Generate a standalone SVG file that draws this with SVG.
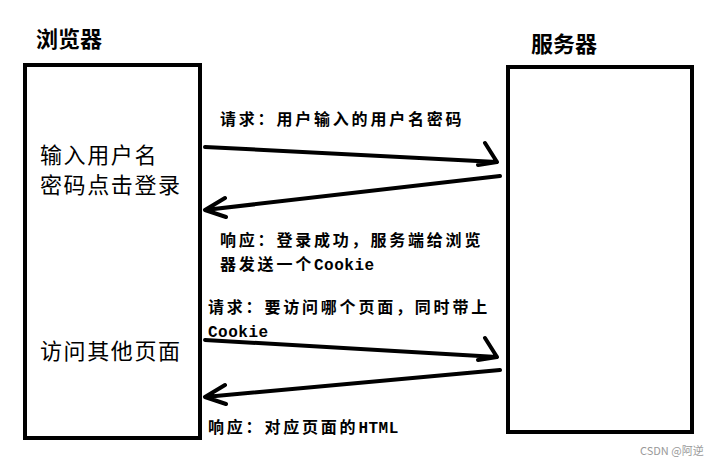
<svg xmlns="http://www.w3.org/2000/svg" width="720" height="465" viewBox="0 0 720 465">
<style>
.box{fill:#fff;stroke:#000;stroke-width:4}
.t{font-family:"Noto Sans CJK SC",sans-serif;fill:#000}
.h{font-size:22px;font-weight:bold}
.n{font-size:22px;letter-spacing:1.6px}
.l{font-size:16px;font-weight:bold;letter-spacing:2.8px;font-family:"Liberation Mono","Noto Sans CJK SC",monospace}
.m{letter-spacing:0.5px}
.c{stroke:#000;stroke-width:4;fill:none;stroke-linecap:round;stroke-linejoin:round}
</style>
<rect width="720" height="465" fill="#fff"/>
<g id="browser">
<rect class="box" x="25" y="65" width="175" height="373"/>
<text class="t h" x="36" y="47">浏览器</text>
<text class="t n" x="40" y="163">输入用户名</text>
<text class="t n" x="40" y="193">密码点击登录</text>
<text class="t n" x="40" y="359">访问其他页面</text>
</g>
<g id="server">
<rect class="box" x="508" y="67" width="184" height="365"/>
<text class="t h" x="531" y="52">服务器</text>
</g>
<g id="connectors">
<path class="c" d="M205 147 L497 162 M485 143 L497 162 L478 165"/>
<path class="c" d="M500 176 L205 210 M225 198 L205 210 L226 217"/>
<path class="c" d="M205 340 L497 357 M485 338 L497 357 L478 360"/>
<path class="c" d="M500 370 L205 397 M225 385 L205 397 L226 404"/>
</g>
<g id="labels">
<text class="t l" x="220" y="125">请求：用户输入的用户名密码</text>
<text class="t l" x="220" y="246">响应：登录成功，服务端给浏览</text>
<text class="t l" x="220" y="270">器发送一个<tspan class="m">Cookie</tspan></text>
<text class="t l" x="208" y="313">请求：要访问哪个页面，同时带上</text>
<text class="t l m" x="208" y="337">Cookie</text>
<text class="t l" x="208" y="433">响应：对应页面的<tspan class="m">HTML</tspan></text>
</g>
<text x="640" y="455" font-family="Noto Sans CJK SC,sans-serif" font-size="11" fill="#999">CSDN @阿逆</text>
</svg>
